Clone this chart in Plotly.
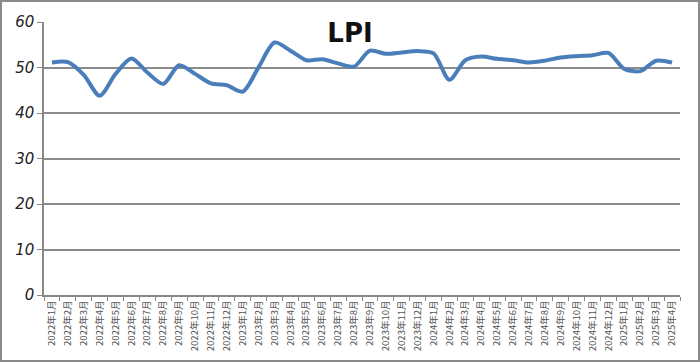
import plotly.graph_objects as go

months = [f"{y}年{m}月" for y, m in
          [(2022, i) for i in range(1, 13)] + [(2023, i) for i in range(1, 13)] +
          [(2024, i) for i in range(1, 13)] + [(2025, i) for i in range(1, 5)]]

lpi = [51.1, 51.2, 48.4, 43.8, 48.6, 52.0, 48.9, 46.4, 50.5, 48.6, 46.5, 46.1,
       44.7, 50.1, 55.5, 53.7, 51.6, 51.8, 50.9, 50.2, 53.7, 53.0, 53.3, 53.6,
       53.1, 47.3, 51.6, 52.4, 51.9, 51.6, 51.1, 51.5, 52.2, 52.5, 52.7, 53.2,
       49.7, 49.2, 51.5, 51.1]

yticks = [0, 10, 20, 30, 40, 50, 60]

W, H = 700, 362
ML, MR, MT, MB = 44, 20, 22, 67
pw, ph = W - ML - MR, H - MT - MB

fig = go.Figure()
fig.add_trace(go.Scatter(
    x=months, y=lpi, mode="lines",
    line=dict(color="#4A7EBB", width=4, shape="spline", smoothing=0.8),
    hoverinfo="x+y", showlegend=False,
))

fig.update_layout(
    width=W, height=H,
    margin=dict(l=ML, r=MR, t=MT, b=MB, pad=0),
    paper_bgcolor="white", plot_bgcolor="white",
    title=dict(text="LPI", x=0.5, xanchor="center", y=1 - 33 / H, yanchor="middle",
               font=dict(family="DejaVu Sans", size=26, color="#111", weight="bold")),
    xaxis=dict(
        type="category", categoryorder="array", categoryarray=months,
        range=[-0.5, len(months) - 0.5],
        tickson="boundaries", ticks="outside", ticklen=4, tickcolor="#888",
        tickangle=-90, tickfont=dict(family="Noto Sans CJK SC", size=9.5, color="#555"),
        showgrid=False, showline=True, linecolor="#888", linewidth=1.5,
        zeroline=False,
    ),
    yaxis=dict(
        range=[0, 60], tickvals=yticks, ticktext=[str(v) for v in yticks],
        ticks="outside", ticklen=5, tickcolor="#888",
        tickfont=dict(family="DejaVu Sans", size=15, color="#222", style="italic"),
        showgrid=True, gridcolor="#8c8c8c", gridwidth=1.5,
        showline=True, linecolor="#888", linewidth=1.5, zeroline=False,
    ),
    shapes=[dict(
        type="rect", xref="paper", yref="paper",
        x0=-(ML - 1) / pw, x1=1 + (MR - 1) / pw,
        y0=-(MB - 1) / ph, y1=1 + (MT - 1) / ph,
        line=dict(color="#8a8a8a", width=2), fillcolor="rgba(0,0,0,0)", layer="below",
    )],
)

fig.write_html(
    "out.html",
    config={"displayModeBar": False},
    post_script="document.body.style.margin='0';document.body.style.overflow='hidden';",
)
